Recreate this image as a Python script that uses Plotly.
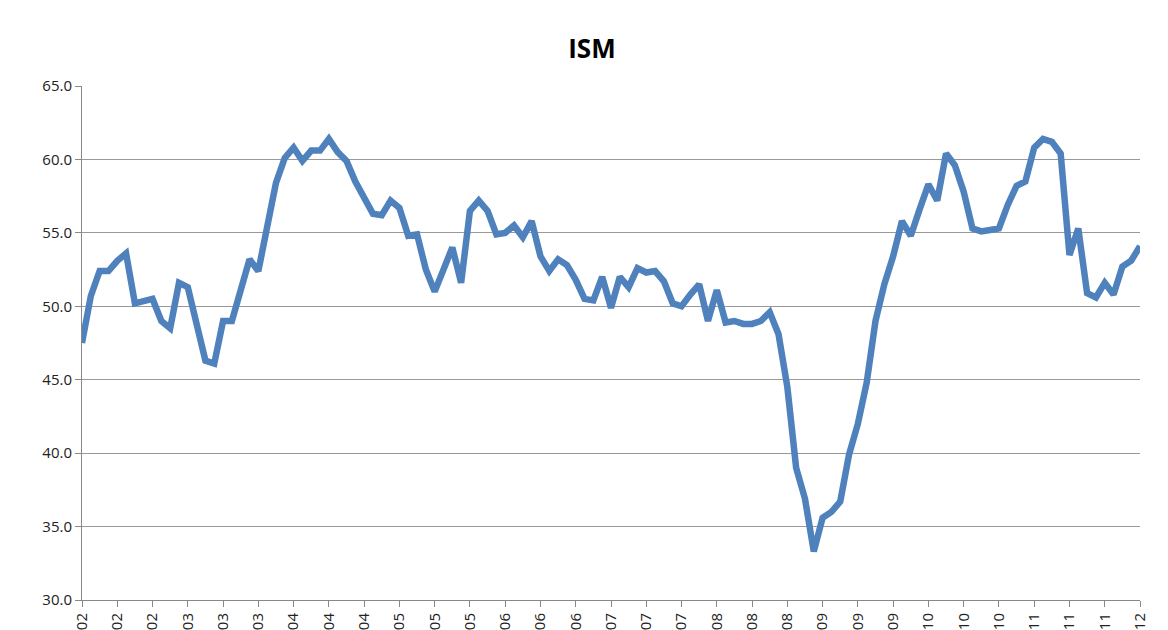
import pandas as pd
import plotly.graph_objects as go

# Monthly ISM values, Jan 2002 - Jan 2012
months = pd.date_range("2002-01-01", "2012-01-01", freq="MS").strftime("%b-%y").tolist()
ism = [
    47.5, 50.7, 52.4, 52.4, 53.1, 53.6, 50.2, 50.3, 50.5, 49.0, 48.5, 51.6,
    51.3, 48.8, 46.3, 46.1, 49.0, 49.0, 51.0, 53.2, 52.4, 55.2, 58.4, 60.1,
    60.8, 59.9, 60.6, 60.6, 61.4, 60.5, 59.9, 58.5, 57.4, 56.3, 56.2, 57.2,
    56.7, 54.8, 54.9, 52.5, 51.0, 52.6, 54.0, 51.6, 56.5, 57.2, 56.5, 54.9,
    55.0, 55.5, 54.7, 55.8, 53.4, 52.4, 53.2, 52.8, 51.8, 50.5, 50.4, 52.0,
    49.9, 52.0, 51.3, 52.6, 52.3, 52.4, 51.7, 50.2, 50.0, 50.8, 51.5, 49.0,
    51.1, 48.9, 49.0, 48.8, 48.8, 49.0, 49.6, 48.1, 44.5, 39.0, 36.9, 33.3,
    35.6, 36.0, 36.7, 39.9, 42.0, 44.8, 49.0, 51.5, 53.4, 55.8, 54.8, 56.6,
    58.3, 57.2, 60.4, 59.6, 57.8, 55.3, 55.1, 55.2, 55.3, 56.9, 58.2, 58.5,
    60.8, 61.4, 61.2, 60.4, 53.5, 55.3, 50.9, 50.6, 51.6, 50.8, 52.7, 53.1,
    54.1,
]
tick_labels = months[::4]

fig = go.Figure()
fig.add_trace(go.Scatter(x=months, y=ism, mode="lines",
                         line=dict(color="#4F81BD", width=6.5)))

fig.update_layout(
    width=1168, height=630,
    title=dict(text="<b>ISM</b>", x=0.5, y=0.95, font=dict(size=26, color="black")),
    font=dict(family="Open Sans, Arial", size=15, color="#222"),
    plot_bgcolor="white", paper_bgcolor="white",
    margin=dict(l=74, r=36, t=78, b=38),
    showlegend=False,
)
# x labels are rotated and run off the bottom edge, as in the original
fig.update_xaxes(type="category", tickvals=tick_labels, ticktext=tick_labels,
                 tickangle=-90, ticks="outside", ticklen=6, tickcolor="#888",
                 showline=True, linecolor="#888", showgrid=False,
                 automargin=False, range=[0, len(months) - 1])
fig.update_yaxes(range=[30, 65], dtick=5, tickformat=".1f",
                 gridcolor="#999", gridwidth=1, showline=True, linecolor="#888",
                 ticks="outside", ticklen=6, tickcolor="#888", automargin=False)

fig.write_html("out.html")
